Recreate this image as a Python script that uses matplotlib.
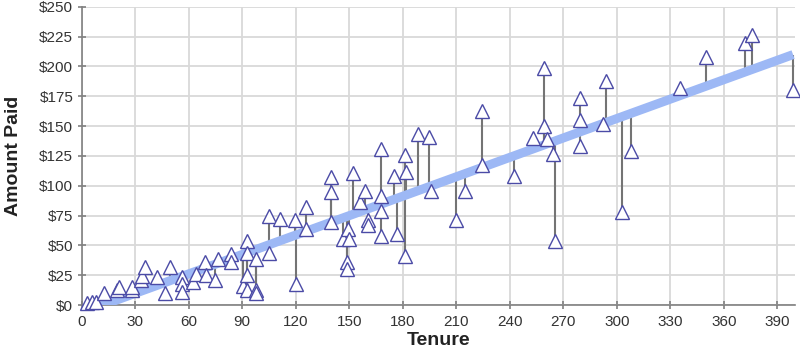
import numpy as np
import matplotlib
matplotlib.use("Agg")
import matplotlib.pyplot as plt
from matplotlib.ticker import FuncFormatter

plt.rcParams['font.family'] = ['Liberation Sans', 'DejaVu Sans']

tenure = [3, 6, 8, 12.5, 20, 21, 28, 28, 33.5, 34, 35.5, 42, 47, 49.5, 56, 56, 56,
          62.5, 64, 69, 70, 75, 76.5, 83.5, 83.5, 90.5, 92.5, 92.5, 92.5, 92.5,
          97.8, 97.8, 97.8, 105, 105, 111, 119.5, 120, 126, 126, 140, 140, 140,
          146.7, 149, 149, 149.5, 150, 152.3, 156, 159, 160.7, 160.7, 168, 168,
          168, 168, 175, 176.7, 181, 182, 181, 188.8, 195, 195.7, 210, 215,
          224.3, 224.3, 242.6, 253, 259, 259, 261, 264.5, 265.6, 279.5, 279.5,
          279.5, 292, 294, 303, 308, 335.6, 350, 371.6, 375.8, 398.8]
amount = [2, 2.5, 3, 10, 12.5, 15.5, 12.5, 15, 21, 24, 32, 23.5, 10, 32, 23.5, 18, 11,
          19, 26.5, 36, 25, 21, 39, 43, 36.5, 16, 54, 44, 25, 12.5,
          39, 12.5, 10, 75, 44, 72, 71.5, 18, 82, 64, 107.5, 95, 70,
          55.5, 36, 30, 64, 55.5, 111, 86, 96, 71, 67, 130.5, 91.5,
          79, 58, 108, 60, 125.5, 111.5, 41, 143.5, 141, 96, 71.5, 96,
          162.5, 117, 108, 140, 198.5, 150, 139, 126.5, 53.5, 173.5, 155,
          133.5, 151.5, 187.5, 78, 129, 181.5, 207.5, 219.5, 226.5, 180]

x_ticks = list(range(0, 391, 30))
y_ticks = list(range(0, 251, 25))

t = np.array(tenure)
a = np.array(amount)
slope, intercept = np.polyfit(t, a, 1)
pred = intercept + slope * t
order = np.argsort(t)

fig = plt.figure(figsize=(8, 3.54), dpi=100)
ax = fig.add_axes([0.102, 0.138, 0.892, 0.843])

ax.set_xlim(0, 400)
ax.set_ylim(0, 250)
ax.set_xticks(x_ticks)
ax.set_yticks(y_ticks)
ax.grid(True, color='#d9d9d9', linewidth=1.3, zorder=0)
ax.set_axisbelow(True)

for sp in ['top', 'right']:
    ax.spines[sp].set_visible(False)
for sp in ['left', 'bottom']:
    ax.spines[sp].set_color('#808080')
    ax.spines[sp].set_linewidth(1.2)

ax.vlines(t, np.minimum(a, pred), np.maximum(a, pred), colors='#747474',
          linewidth=1.5, zorder=2)
ax.plot(t[order], pred[order], color='#9DB8F5', linewidth=6.5, zorder=3,
        solid_capstyle='butt')
ax.plot(t, a, linestyle='none', marker='^', markersize=10, markerfacecolor='white',
        markeredgecolor='#4B4BA6', markeredgewidth=1.0, zorder=4, clip_on=False)

ax.yaxis.set_major_formatter(FuncFormatter(lambda v, p: f"${int(v)}"))
ax.tick_params(axis='both', direction='inout', length=6, color='#808080',
               labelsize=11, labelcolor='#333333', width=1.2)
ax.tick_params(axis='y', pad=3)
ax.tick_params(axis='x', pad=4)

ax.set_xlabel('Tenure', fontsize=14, fontweight='bold', color='#222222')
ax.set_ylabel('Amount Paid', fontsize=14, fontweight='bold', color='#222222')
ax.xaxis.set_label_coords(0.5, -0.12, transform=ax.transAxes)
ax.yaxis.set_label_coords(-0.096, 0.5, transform=ax.transAxes)
ax.xaxis.label.set_verticalalignment('center')
ax.yaxis.label.set_verticalalignment('center')

fig.savefig('out.png', dpi=100)
